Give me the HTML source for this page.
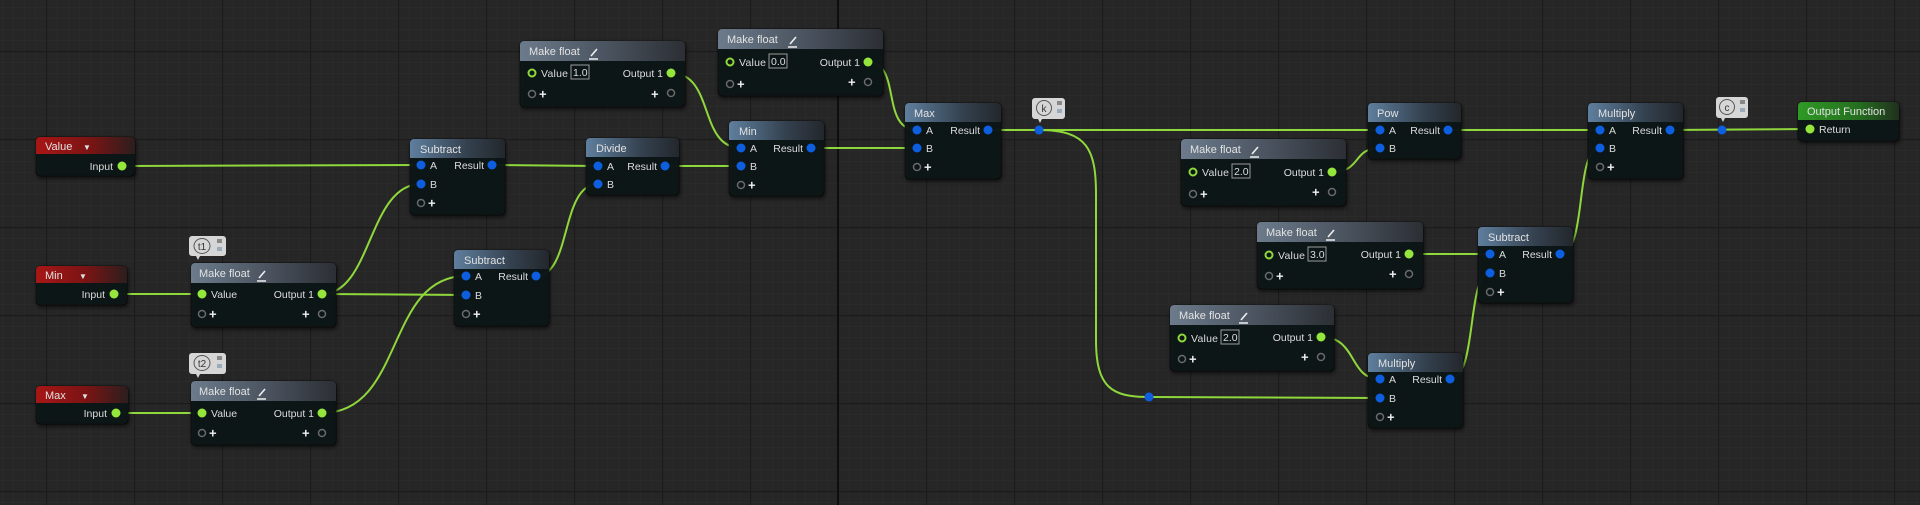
<!DOCTYPE html>
<html><head><meta charset="utf-8"><style>
html,body{margin:0;padding:0;background:#252525;}
svg{display:block;}
text{font-family:"Liberation Sans",sans-serif;}
.t{font-size:11px;fill:#e2e2e2;}
.l{font-size:10.5px;fill:#dcdcdc;}
.r{text-anchor:end;}
.w{fill:none;stroke:#8fd83c;stroke-width:2;}
.body{fill:#121314;fill-opacity:.95;stroke:#000;stroke-opacity:.5;}
.bp{fill:#0d5fe0;}
.gp{fill:#95e63c;}
.hp{fill:none;stroke:#6a6a6a;stroke-width:1.5;}
.gr{fill:none;stroke:#8fd83c;stroke-width:2;}
.pl{font-size:13px;font-weight:bold;fill:#f2f2f2;}
.vb{fill:none;stroke:#999;stroke-width:1;}
</style></head><body>
<svg width="1920" height="505" viewBox="0 0 1920 505" xmlns="http://www.w3.org/2000/svg">
<defs>
<pattern id="minor" x="46" y="51" width="11" height="11" patternUnits="userSpaceOnUse"><path d="M0 0H11M0 0V11" stroke="#2d2d2d" stroke-width="1" fill="none"/></pattern>
<pattern id="major" x="46" y="51" width="88" height="88" patternUnits="userSpaceOnUse"><path d="M0 .5H88M.5 0V88" stroke="#1b1b1b" stroke-width="1.2" fill="none"/></pattern>
<linearGradient id="gF" x1="0" x2="1"><stop offset="0" stop-color="#5f7f9e"/><stop offset=".6" stop-color="#34414f"/><stop offset="1" stop-color="#23272c"/></linearGradient>
<linearGradient id="gM" x1="0" x2="1"><stop offset="0" stop-color="#6c7b8c"/><stop offset=".7" stop-color="#3f4650"/><stop offset="1" stop-color="#2c2f34"/></linearGradient>
<linearGradient id="gR" x1="0" x2="1"><stop offset="0" stop-color="#a81616"/><stop offset=".55" stop-color="#7a1414"/><stop offset="1" stop-color="#2c1e1e"/></linearGradient>
<linearGradient id="gG" x1="0" x2="1"><stop offset="0" stop-color="#2f9a25"/><stop offset=".6" stop-color="#256e1f"/><stop offset="1" stop-color="#20301e"/></linearGradient>
<filter id="sh" x="-10%" y="-10%" width="130%" height="140%"><feDropShadow dx="1" dy="2" stdDeviation="2" flood-color="#000" flood-opacity=".7"/></filter>
</defs>
<rect width="1920" height="505" fill="#262626"/>
<rect width="1920" height="505" fill="url(#minor)"/>
<rect width="1920" height="505" fill="url(#major)"/>
<rect x="837" y="0" width="2" height="505" fill="#0e0e0e"/>

<g class="w">
<path d="M122 166 L421 165"/>
<path d="M322 294 C372 294 368 184 421 184"/>
<path d="M322 294 L466 295"/>
<path d="M114 294 L202 294"/>
<path d="M116 413 L202 413"/>
<path d="M322 413 C405 413 385 276 466 276"/>
<path d="M492 165 L598 166"/>
<path d="M536 276 C572 276 560 184 598 184"/>
<path d="M665 166 L741 166"/>
<path d="M671 73 C715 73 698 148 741 148"/>
<path d="M868 62 C902 62 880 130 917 130"/>
<path d="M811 148 L917 148"/>
<path d="M988 130 L1380 130"/>
<path d="M1039 130 C1088 130 1096 150 1096 195 L1096 340 C1096 388 1112 397 1149 397 L1380 398"/>
<path d="M1332 172 C1362 172 1352 148 1380 148"/>
<path d="M1448 130 L1600 130"/>
<path d="M1409 254 L1490 254"/>
<path d="M1321 337 C1358 337 1348 379 1380 379"/>
<path d="M1450 379 C1478 379 1466 273 1490 273"/>
<path d="M1560 254 C1588 254 1574 148 1600 148"/>
<path d="M1670 130 L1810 129"/>
</g>

<g filter="url(#sh)">
<rect class="body" x="36" y="137" width="99" height="39" rx="4"/>
<rect class="body" x="36" y="266" width="91" height="39" rx="4"/>
<rect class="body" x="36" y="386" width="92" height="38" rx="4"/>
<rect class="body" x="410" y="139" width="95" height="76" rx="4"/>
<rect class="body" x="191" y="263" width="145" height="64" rx="4"/>
<rect class="body" x="454" y="250" width="95" height="76" rx="4"/>
<rect class="body" x="191" y="381" width="145" height="64" rx="4"/>
<rect class="body" x="520" y="41" width="165" height="66" rx="4"/>
<rect class="body" x="718" y="29" width="165" height="67" rx="4"/>
<rect class="body" x="586" y="138" width="93" height="57" rx="4"/>
<rect class="body" x="729" y="121" width="95" height="75" rx="4"/>
<rect class="body" x="905" y="103" width="96" height="76" rx="4"/>
<rect class="body" x="1181" y="139" width="165" height="67" rx="4"/>
<rect class="body" x="1257" y="222" width="166" height="67" rx="4"/>
<rect class="body" x="1478" y="227" width="95" height="76" rx="4"/>
<rect class="body" x="1170" y="305" width="164" height="66" rx="4"/>
<rect class="body" x="1368" y="353" width="95" height="75" rx="4"/>
<rect class="body" x="1368" y="103" width="93" height="56" rx="4"/>
<rect class="body" x="1588" y="103" width="95" height="76" rx="4"/>
<rect class="body" x="1798" y="102" width="101" height="39" rx="4"/>
</g>
<g>
<path d="M40 137H131a4 4 0 0 1 4 4V154H36V141a4 4 0 0 1 4-4z" fill="url(#gR)"/>
<path d="M40 266H123a4 4 0 0 1 4 4V283H36V270a4 4 0 0 1 4-4z" fill="url(#gR)"/>
<path d="M40 386H124a4 4 0 0 1 4 4V403H36V390a4 4 0 0 1 4-4z" fill="url(#gR)"/>
<path d="M414 139H501a4 4 0 0 1 4 4V158H410V143a4 4 0 0 1 4-4z" fill="url(#gF)"/>
<path d="M195 263H332a4 4 0 0 1 4 4V283H191V267a4 4 0 0 1 4-4z" fill="url(#gM)"/>
<path d="M458 250H545a4 4 0 0 1 4 4V269H454V254a4 4 0 0 1 4-4z" fill="url(#gF)"/>
<path d="M195 381H332a4 4 0 0 1 4 4V401H191V385a4 4 0 0 1 4-4z" fill="url(#gM)"/>
<path d="M524 41H681a4 4 0 0 1 4 4V61H520V45a4 4 0 0 1 4-4z" fill="url(#gM)"/>
<path d="M722 29H879a4 4 0 0 1 4 4V49H718V33a4 4 0 0 1 4-4z" fill="url(#gM)"/>
<path d="M590 138H675a4 4 0 0 1 4 4V157H586V142a4 4 0 0 1 4-4z" fill="url(#gF)"/>
<path d="M733 121H820a4 4 0 0 1 4 4V140H729V125a4 4 0 0 1 4-4z" fill="url(#gF)"/>
<path d="M909 103H997a4 4 0 0 1 4 4V122H905V107a4 4 0 0 1 4-4z" fill="url(#gF)"/>
<path d="M1185 139H1342a4 4 0 0 1 4 4V159H1181V143a4 4 0 0 1 4-4z" fill="url(#gM)"/>
<path d="M1261 222H1419a4 4 0 0 1 4 4V242H1257V226a4 4 0 0 1 4-4z" fill="url(#gM)"/>
<path d="M1482 227H1569a4 4 0 0 1 4 4V246H1478V231a4 4 0 0 1 4-4z" fill="url(#gF)"/>
<path d="M1174 305H1330a4 4 0 0 1 4 4V325H1170V309a4 4 0 0 1 4-4z" fill="url(#gM)"/>
<path d="M1372 353H1459a4 4 0 0 1 4 4V372H1368V357a4 4 0 0 1 4-4z" fill="url(#gF)"/>
<path d="M1372 103H1457a4 4 0 0 1 4 4V122H1368V107a4 4 0 0 1 4-4z" fill="url(#gF)"/>
<path d="M1592 103H1679a4 4 0 0 1 4 4V122H1588V107a4 4 0 0 1 4-4z" fill="url(#gF)"/>
<path d="M1802 102H1895a4 4 0 0 1 4 4V120H1798V106a4 4 0 0 1 4-4z" fill="url(#gG)"/>
</g>

<g class="t">
<text x="45" y="150">Value</text><text x="83" y="150" font-size="8">▼</text>
<text x="45" y="279">Min</text><text x="79" y="279" font-size="8">▼</text>
<text x="45" y="399">Max</text><text x="81" y="399" font-size="8">▼</text>
<text x="420" y="153">Subtract</text>
<text x="199" y="277">Make float</text>
<text x="464" y="264">Subtract</text>
<text x="199" y="395">Make float</text>
<text x="529" y="55">Make float</text>
<text x="727" y="43">Make float</text>
<text x="596" y="152">Divide</text>
<text x="739" y="135">Min</text>
<text x="914" y="117">Max</text>
<text x="1190" y="153">Make float</text>
<text x="1266" y="236">Make float</text>
<text x="1488" y="241">Subtract</text>
<text x="1179" y="319">Make float</text>
<text x="1378" y="367">Multiply</text>
<text x="1377" y="117">Pow</text>
<text x="1598" y="117">Multiply</text>
<text x="1807" y="115">Output Function</text>
</g>
<g stroke="#eee" stroke-width="1.6" fill="none">
<path d="M259 278 L265 271 M257 281 H266"/>
<path d="M259 396 L265 389 M257 399 H266"/>
<path d="M591 56 L597 49 M589 59 H598"/>
<path d="M790 44 L796 37 M788 47 H797"/>
<path d="M1252 154 L1258 147 M1250 157 H1259"/>
<path d="M1328 237 L1334 230 M1326 240 H1335"/>
<path d="M1241 320 L1247 313 M1239 323 H1248"/>
</g>

<g>
<text class="l r" x="113" y="170">Input</text><circle class="gp" cx="122" cy="166" r="4.5"/>
<text class="l r" x="105" y="298">Input</text><circle class="gp" cx="114" cy="294" r="4.5"/>
<text class="l r" x="107" y="417">Input</text><circle class="gp" cx="116" cy="413" r="4.5"/>
<circle class="bp" cx="421" cy="165" r="4.5"/><text class="l" x="430" y="169">A</text>
<circle class="bp" cx="421" cy="184" r="4.5"/><text class="l" x="430" y="188">B</text>
<circle class="hp" cx="421" cy="203" r="3.5"/><text class="pl" x="428" y="207.5">+</text>
<text class="l r" x="484" y="169">Result</text><circle class="bp" cx="492" cy="165" r="4.5"/>
<circle class="bp" cx="466" cy="276" r="4.5"/><text class="l" x="475" y="280">A</text>
<circle class="bp" cx="466" cy="295" r="4.5"/><text class="l" x="475" y="299">B</text>
<circle class="hp" cx="466" cy="314" r="3.5"/><text class="pl" x="473" y="318.5">+</text>
<text class="l r" x="528" y="280">Result</text><circle class="bp" cx="536" cy="276" r="4.5"/>
<circle class="gp" cx="202" cy="294" r="4.5"/><text class="l" x="211" y="298">Value</text>
<text class="l r" x="314" y="298">Output 1</text><circle class="gp" cx="322" cy="294" r="4.5"/>
<circle class="hp" cx="202" cy="314" r="3.5"/><text class="pl" x="209" y="318.5">+</text>
<text class="pl" x="302" y="318.5">+</text><circle class="hp" cx="322" cy="314" r="3.5"/>
<circle class="gp" cx="202" cy="413" r="4.5"/><text class="l" x="211" y="417">Value</text>
<text class="l r" x="314" y="417">Output 1</text><circle class="gp" cx="322" cy="413" r="4.5"/>
<circle class="hp" cx="202" cy="433" r="3.5"/><text class="pl" x="209" y="437.5">+</text>
<text class="pl" x="302" y="437.5">+</text><circle class="hp" cx="322" cy="433" r="3.5"/>
<circle class="gr" cx="532" cy="73" r="3.5"/><text class="l" x="541" y="77" textLength="27">Value</text>
<rect class="vb" x="571" y="65" width="18" height="14"/><text class="l" x="573" y="76">1.0</text>
<text class="l r" x="663" y="77">Output 1</text><circle class="gp" cx="671" cy="73" r="4.5"/>
<circle class="hp" cx="532" cy="94" r="3.5"/><text class="pl" x="539" y="98.5">+</text>
<text class="pl" x="651" y="98.5">+</text><circle class="hp" cx="671" cy="93" r="3.5"/>
<circle class="gr" cx="730" cy="62" r="3.5"/><text class="l" x="739" y="66" textLength="27">Value</text>
<rect class="vb" x="769" y="54" width="18" height="14"/><text class="l" x="771" y="65">0.0</text>
<text class="l r" x="860" y="66">Output 1</text><circle class="gp" cx="868" cy="62" r="4.5"/>
<circle class="hp" cx="730" cy="84" r="3.5"/><text class="pl" x="737" y="88.5">+</text>
<text class="pl" x="848" y="86.5">+</text><circle class="hp" cx="868" cy="82" r="3.5"/>
<circle class="bp" cx="598" cy="166" r="4.5"/><text class="l" x="607" y="170">A</text>
<circle class="bp" cx="598" cy="184" r="4.5"/><text class="l" x="607" y="188">B</text>
<text class="l r" x="657" y="170">Result</text><circle class="bp" cx="665" cy="166" r="4.5"/>
<circle class="bp" cx="741" cy="148" r="4.5"/><text class="l" x="750" y="152">A</text>
<circle class="bp" cx="741" cy="166" r="4.5"/><text class="l" x="750" y="170">B</text>
<circle class="hp" cx="741" cy="185" r="3.5"/><text class="pl" x="748" y="189.5">+</text>
<text class="l r" x="803" y="152">Result</text><circle class="bp" cx="811" cy="148" r="4.5"/>
<circle class="bp" cx="917" cy="130" r="4.5"/><text class="l" x="926" y="134">A</text>
<circle class="bp" cx="917" cy="148" r="4.5"/><text class="l" x="926" y="152">B</text>
<circle class="hp" cx="917" cy="167" r="3.5"/><text class="pl" x="924" y="171.5">+</text>
<text class="l r" x="980" y="134">Result</text><circle class="bp" cx="988" cy="130" r="4.5"/>
<circle class="gr" cx="1193" cy="172" r="3.5"/><text class="l" x="1202" y="176" textLength="27">Value</text>
<rect class="vb" x="1232" y="164" width="18" height="14"/><text class="l" x="1234" y="175">2.0</text>
<text class="l r" x="1324" y="176">Output 1</text><circle class="gp" cx="1332" cy="172" r="4.5"/>
<circle class="hp" cx="1193" cy="194" r="3.5"/><text class="pl" x="1200" y="198.5">+</text>
<text class="pl" x="1312" y="196.5">+</text><circle class="hp" cx="1332" cy="192" r="3.5"/>
<circle class="gr" cx="1269" cy="255" r="3.5"/><text class="l" x="1278" y="259" textLength="27">Value</text>
<rect class="vb" x="1308" y="247" width="18" height="14"/><text class="l" x="1310" y="258">3.0</text>
<text class="l r" x="1401" y="258">Output 1</text><circle class="gp" cx="1409" cy="254" r="4.5"/>
<circle class="hp" cx="1269" cy="276" r="3.5"/><text class="pl" x="1276" y="280.5">+</text>
<text class="pl" x="1389" y="278.5">+</text><circle class="hp" cx="1409" cy="274" r="3.5"/>
<circle class="bp" cx="1490" cy="254" r="4.5"/><text class="l" x="1499" y="258">A</text>
<circle class="bp" cx="1490" cy="273" r="4.5"/><text class="l" x="1499" y="277">B</text>
<circle class="hp" cx="1490" cy="292" r="3.5"/><text class="pl" x="1497" y="296.5">+</text>
<text class="l r" x="1552" y="258">Result</text><circle class="bp" cx="1560" cy="254" r="4.5"/>
<circle class="gr" cx="1182" cy="338" r="3.5"/><text class="l" x="1191" y="342" textLength="27">Value</text>
<rect class="vb" x="1221" y="330" width="18" height="14"/><text class="l" x="1223" y="341">2.0</text>
<text class="l r" x="1313" y="341">Output 1</text><circle class="gp" cx="1321" cy="337" r="4.5"/>
<circle class="hp" cx="1182" cy="359" r="3.5"/><text class="pl" x="1189" y="363.5">+</text>
<text class="pl" x="1301" y="361.5">+</text><circle class="hp" cx="1321" cy="357" r="3.5"/>
<circle class="bp" cx="1380" cy="379" r="4.5"/><text class="l" x="1389" y="383">A</text>
<circle class="bp" cx="1380" cy="398" r="4.5"/><text class="l" x="1389" y="402">B</text>
<circle class="hp" cx="1380" cy="417" r="3.5"/><text class="pl" x="1387" y="421.5">+</text>
<text class="l r" x="1442" y="383">Result</text><circle class="bp" cx="1450" cy="379" r="4.5"/>
<circle class="bp" cx="1380" cy="130" r="4.5"/><text class="l" x="1389" y="134">A</text>
<circle class="bp" cx="1380" cy="148" r="4.5"/><text class="l" x="1389" y="152">B</text>
<text class="l r" x="1440" y="134">Result</text><circle class="bp" cx="1448" cy="130" r="4.5"/>
<circle class="bp" cx="1600" cy="130" r="4.5"/><text class="l" x="1609" y="134">A</text>
<circle class="bp" cx="1600" cy="148" r="4.5"/><text class="l" x="1609" y="152">B</text>
<circle class="hp" cx="1600" cy="167" r="3.5"/><text class="pl" x="1607" y="171.5">+</text>
<text class="l r" x="1662" y="134">Result</text><circle class="bp" cx="1670" cy="130" r="4.5"/>
<circle class="gp" cx="1810" cy="129" r="4.5"/><text class="l" x="1819" y="133">Return</text>
</g>

<circle class="bp" cx="1039" cy="130" r="4.5"/>
<circle class="bp" cx="1149" cy="397" r="4.5"/>
<circle class="bp" cx="1722" cy="130" r="4.5"/>

<g>
<g transform="translate(189,236)">
<rect width="37" height="20" rx="3" fill="#d6d6d6"/><path d="M7 20 L9 24 L11 20z" fill="#d6d6d6"/>
<ellipse cx="13" cy="10" rx="8" ry="7.5" fill="none" stroke="#555"/><text x="13" y="14" font-size="10" text-anchor="middle" fill="#333">t1</text>
<rect x="28" y="3" width="5" height="4" fill="#888"/><rect x="28" y="11" width="5" height="4" fill="#9ab"/>
</g>
<g transform="translate(189,353)">
<rect width="37" height="21" rx="3" fill="#d6d6d6"/><path d="M7 21 L9 25 L11 21z" fill="#d6d6d6"/>
<ellipse cx="13" cy="10" rx="8" ry="7.5" fill="none" stroke="#555"/><text x="13" y="14" font-size="10" text-anchor="middle" fill="#333">t2</text>
<rect x="28" y="3" width="5" height="4" fill="#888"/><rect x="28" y="11" width="5" height="4" fill="#9ab"/>
</g>
<g transform="translate(1032,98)">
<rect width="33" height="21" rx="3" fill="#d6d6d6"/><path d="M6 21 L8 25 L10 21z" fill="#d6d6d6"/>
<circle cx="12" cy="10" r="7.5" fill="none" stroke="#555"/><text x="12" y="14" font-size="10" text-anchor="middle" fill="#333">k</text>
<rect x="25" y="3" width="5" height="4" fill="#888"/><rect x="25" y="11" width="5" height="4" fill="#9ab"/>
</g>
<g transform="translate(1716,97)">
<rect width="32" height="21" rx="3" fill="#d6d6d6"/><path d="M5 21 L7 25 L9 21z" fill="#d6d6d6"/>
<circle cx="11" cy="10" r="7.5" fill="none" stroke="#555"/><text x="11" y="14" font-size="10" text-anchor="middle" fill="#333">c</text>
<rect x="24" y="3" width="5" height="4" fill="#888"/><rect x="24" y="11" width="5" height="4" fill="#9ab"/>
</g>
</g>
</svg>
</body></html>
